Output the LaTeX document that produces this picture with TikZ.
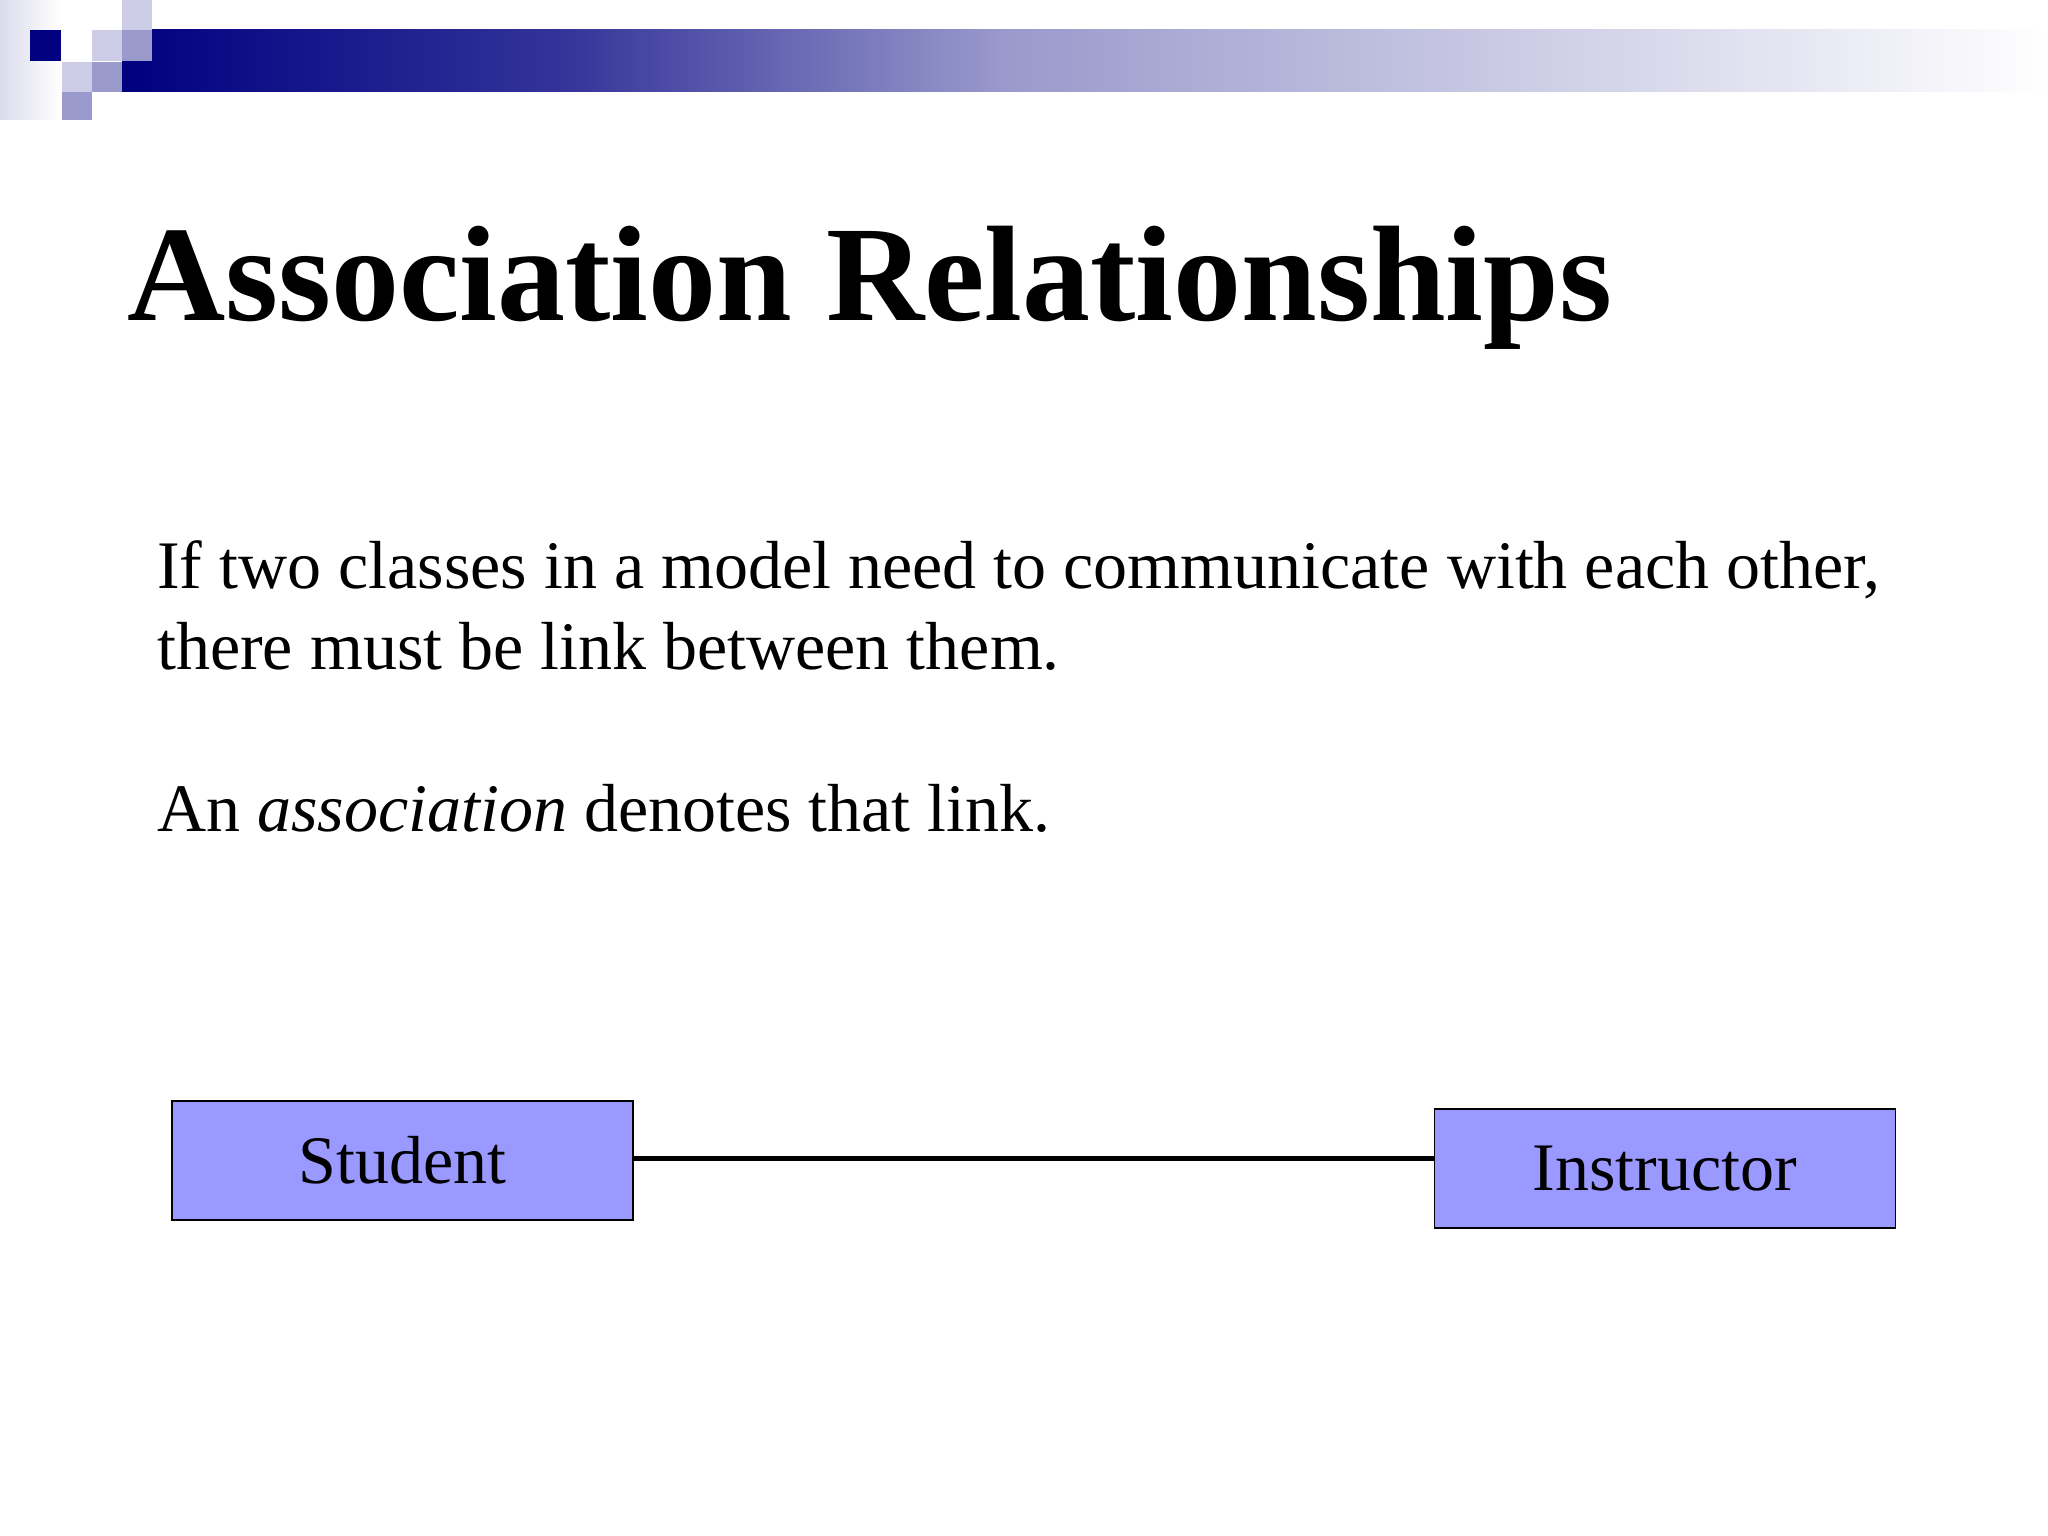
\documentclass[tikz,border=0pt]{standalone}
\usepackage{fontspec}
\setmainfont{Liberation Serif}
\begin{document}
\begin{tikzpicture}[x=1pt,y=-1pt,
  cls/.style={draw=black,line width=1.5pt,fill=boxblue,minimum width=461pt,minimum height=119pt,font=\fontsize{68}{76}\selectfont,inner sep=0pt},
  body/.style={anchor=base west,inner sep=0pt,font=\fontsize{68}{76}\selectfont}]
\definecolor{boxblue}{HTML}{9999FF}
\definecolor{navy}{HTML}{000080}
\definecolor{lav}{HTML}{CCCCE6}
\definecolor{mid}{HTML}{9999CC}
\useasboundingbox (0,0) rectangle (2048,1536);
\fill[white] (0,0) rectangle (2048,1536);
\shade[left color=lav!70,right color=white] (0,0) rectangle (62,120);
\shade[left color=navy,right color=navy!40,middle color=navy!80] (122,30) rectangle (1000,92);
\shade[left color=navy!40,right color=white] (1000,30) rectangle (2048,92);
\fill[navy] (30,30) rectangle (61,61);
\fill[lav] (62,62) rectangle (92,92);
\fill[lav] (92,30) rectangle (122,61);
\fill[mid] (122,30) rectangle (152,61);
\fill[lav] (122,0) rectangle (152,30);
\fill[mid] (92,62) rectangle (122,92);
\fill[mid] (62,92) rectangle (92,120);
\node[anchor=base west,inner sep=0pt,font=\fontsize{136}{150}\selectfont\bfseries] (title) at (127,320) {Association Relationships};
\node[body] (l1) at (157,588) {If two classes in a model need to communicate with each other,};
\node[body] (l2) at (157,669) {there must be link between them.};
\node[body] (l3) at (157,831) {An \textit{association} denotes that link.};
\node[cls] (s) at (402.5,1160.5) {Student};
\node[cls] (i) at (1665,1168.5) {Instructor};
\draw[line width=5pt] (s.east |- 0,1158) -- (i.west |- 0,1158);
\end{tikzpicture}
\end{document}
